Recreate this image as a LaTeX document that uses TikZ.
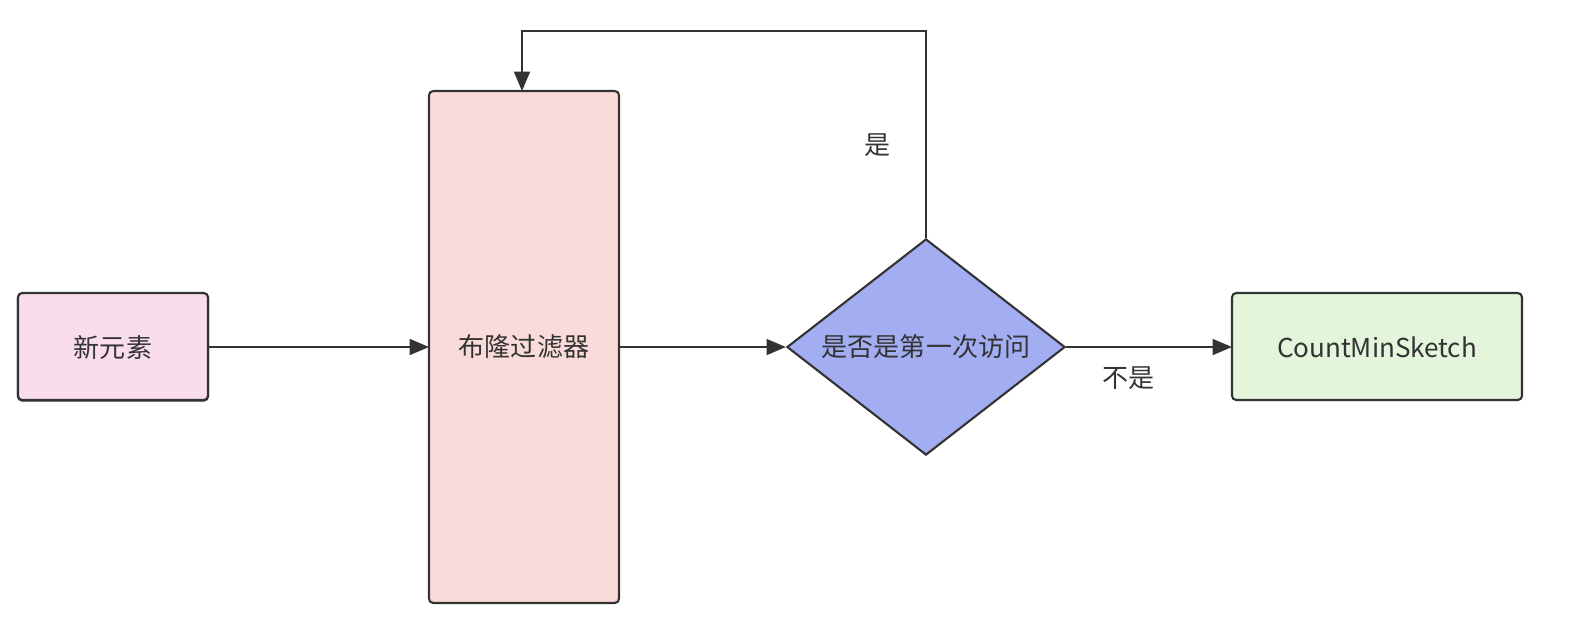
\documentclass[tikz,border=0pt]{standalone}
\usepackage{fontspec}
\setmainfont{Noto Sans CJK SC}
\usetikzlibrary{shapes.geometric,arrows.meta}
\definecolor{ln}{HTML}{333333}
\begin{document}
\begin{tikzpicture}[x=0.01cm,y=-0.01cm,
  box/.style={draw=ln,line width=0.6pt,rounded corners=1.2pt,inner sep=0pt,font=\fontsize{7.4pt}{9pt}\selectfont,text=ln},
  conn/.style={draw=ln,line width=0.6pt,-{Triangle[length=5.5pt,width=4.5pt]}},
  lbl/.style={font=\fontsize{7.4pt}{9pt}\selectfont,text=ln}]
\useasboundingbox (0,0) rectangle (1580,632);
\node[box,fill={rgb,255:red,250;green,221;blue,236},minimum width=190\pgflinewidth*0+0.539cm*3.525,minimum height=1.07cm] (a) at (113,347) {};
\path[box,fill={rgb,255:red,250;green,221;blue,236}] (18,293) rectangle (208,400);
\node[lbl] (at) at (113,347) {新元素};
\path[box,fill={rgb,255:red,249;green,220;blue,218}] (429,91) rectangle (619,603);
\node[lbl] (b) at (524,347) {布隆过滤器};
\node[draw=ln,line width=0.6pt,fill={rgb,255:red,163;green,173;blue,242},diamond,minimum width=2.78cm,minimum height=2.16cm,inner sep=0pt] (d) at (926,347) {};
\node[lbl] at (926,347) {是否是第一次访问};
\path[box,fill={rgb,255:red,227;green,245;blue,218}] (1232,293) rectangle (1522,400);
\node[lbl] (c) at (1377,347) {CountMinSketch};
\coordinate (a1) at (208,347); \coordinate (b0) at (429,347);
\coordinate (b1) at (619,347); \coordinate (c0) at (1232,347);
\coordinate (bt) at (522,91);
\draw[conn] (a1) -- (b0);
\draw[conn] (b1) -- (d.west);
\draw[conn] (d.east) -- (c0);
\draw[conn] (d.north) -- (926,31) -- (522,31) -- (bt);
\node[lbl] at (877,145) {是};
\node[lbl] at (1128,378) {不是};
\end{tikzpicture}
\end{document}
